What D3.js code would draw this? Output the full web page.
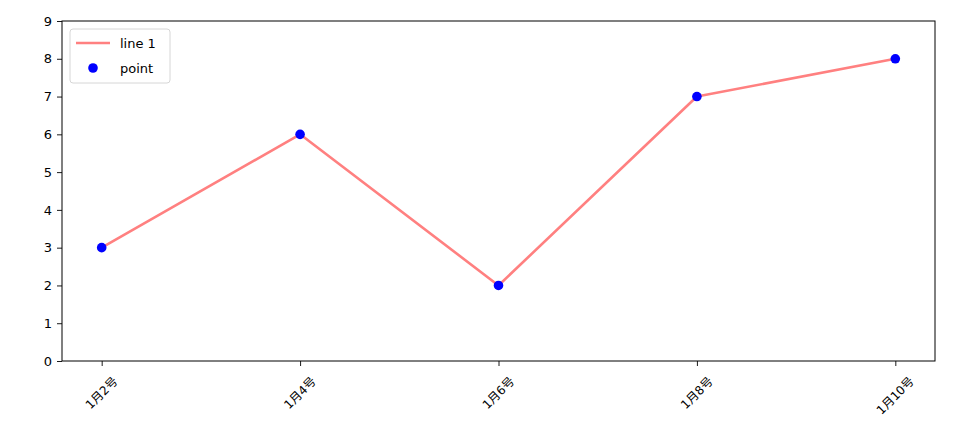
<!DOCTYPE html>
<html>
<head>
<meta charset="utf-8">
<script src="https://cdn.jsdelivr.net/npm/d3@7"></script>
<style>
  body { margin: 0; background: #fff; }
  svg { display: block; }
  text { font-family: "DejaVu Sans", "Noto Sans CJK SC", sans-serif; fill: #000; }
</style>
</head>
<body>
<div id="chart"></div>
<script>
// data
const dates = ['1月2号', '1月4号', '1月6号', '1月8号', '1月10号'];
const values = [3, 6, 2, 7, 8];
const yTicks = [0, 1, 2, 3, 4, 5, 6, 7, 8, 9];

const width = 976, height = 433;
const margin = { left: 62, right: 41, top: 21, bottom: 72 };
const fontSize = 13;

const svg = d3.select('#chart')
  .append('svg')
    .attr('width', width)
    .attr('height', height);

const plotW = width - margin.left - margin.right;
const plotH = height - margin.top - margin.bottom;

// matplotlib-style 5% padding on x
const x = d3.scaleLinear()
  .domain([-0.2, dates.length - 1 + 0.2])
  .range([margin.left, margin.left + plotW]);
const y = d3.scaleLinear()
  .domain([0, 9])
  .range([margin.top + plotH, margin.top]);

// the line
svg.append('path')
  .datum(values)
  .attr('fill', 'none')
  .attr('stroke', '#ff8080')
  .attr('stroke-width', 2.6)
  .attr('stroke-linejoin', 'round')
  .attr('d', d3.line().x((d, i) => x(i)).y(d => y(d)));

// the points
svg.append('g')
  .selectAll('circle')
  .data(values)
  .enter()
  .append('circle')
    .attr('cx', (d, i) => x(i))
    .attr('cy', d => y(d))
    .attr('r', 4.8)
    .attr('fill', '#0000ff');

// y axis
const yAxis = svg.append('g')
  .attr('transform', 'translate(' + margin.left + ',0)')
  .call(d3.axisLeft(y).tickValues(yTicks).tickSize(5).tickPadding(5).tickFormat(d3.format('d')));
yAxis.select('.domain').remove();
yAxis.selectAll('text').style('font-size', fontSize + 'px').style('font-family', null);
yAxis.selectAll('line').attr('stroke', '#000').attr('stroke-width', 0.9);

// x axis ticks
const xAxis = svg.append('g')
  .attr('transform', 'translate(0,' + (margin.top + plotH) + ')')
  .call(d3.axisBottom(x).tickValues(d3.range(dates.length)).tickSize(5).tickFormat(''));
xAxis.select('.domain').remove();
xAxis.selectAll('line').attr('stroke', '#000').attr('stroke-width', 0.9);

// rotated tick labels (rotation 45, centered like matplotlib)
const xl = svg.append('g');
dates.forEach((label, i) => {
  const t = xl.append('text')
    .text(label)
    .style('font-size', '12px')
    .attr('text-anchor', 'middle')
    .attr('dominant-baseline', 'central');
  const w = t.node().getComputedTextLength();
  const h = (w + 12) / Math.SQRT2;
  const cy = margin.top + plotH + 14 + h / 2;
  t.attr('transform', 'translate(' + x(i) + ',' + cy + ') rotate(-45)');
});

// frame
svg.append('rect')
  .attr('x', margin.left)
  .attr('y', margin.top)
  .attr('width', plotW)
  .attr('height', plotH)
  .attr('fill', 'none')
  .attr('stroke', '#000')
  .attr('stroke-width', 1);

// legend
const legend = svg.append('g').attr('transform', 'translate(70,29)');
legend.append('rect')
  .attr('width', 100)
  .attr('height', 54)
  .attr('rx', 3)
  .attr('fill', '#fff')
  .attr('fill-opacity', 0.8)
  .attr('stroke', '#d6d6d6');
legend.append('line')
  .attr('x1', 6).attr('x2', 40)
  .attr('y1', 14).attr('y2', 14)
  .attr('stroke', '#ff8080')
  .attr('stroke-width', 2.6);
legend.append('circle')
  .attr('cx', 23).attr('cy', 39).attr('r', 4.8)
  .attr('fill', '#0000ff');
legend.append('text').text('line 1')
  .attr('x', 50).attr('y', 14)
  .attr('dominant-baseline', 'central')
  .style('font-size', fontSize + 'px');
legend.append('text').text('point')
  .attr('x', 50).attr('y', 39)
  .attr('dominant-baseline', 'central')
  .style('font-size', fontSize + 'px');
</script>
</body>
</html>
